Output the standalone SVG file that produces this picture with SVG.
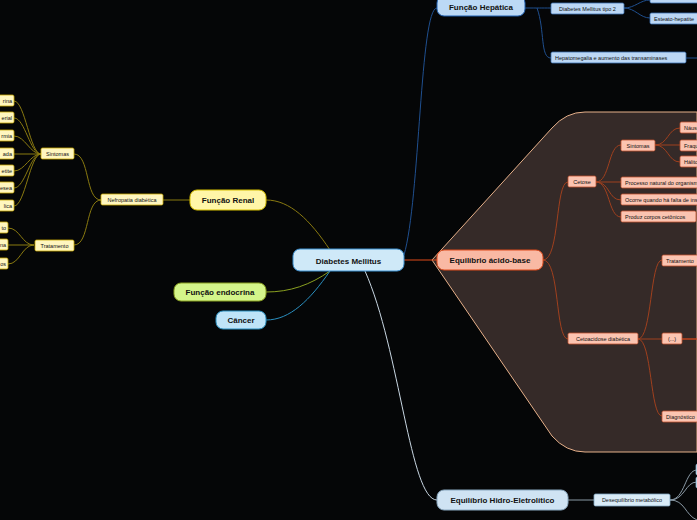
<svg xmlns="http://www.w3.org/2000/svg" width="697" height="520" viewBox="0 0 697 520">
<style>
text{font-family:"Liberation Sans",Arial,sans-serif;fill:#111}
.s{font-size:5.5px}
.m{font-size:8px;font-weight:bold}
.y{fill:#fff6bf;stroke:#c9a800;stroke-width:.8}
.b{fill:#bcd7f5;stroke:#3a6fb0;stroke-width:.8}
.r{fill:#fbc4b1;stroke:#c0502d;stroke-width:.8}
.w{fill:#d9ebf7;stroke:#7fa5c0;stroke-width:.8}
.cy{fill:none;stroke:#8a7a10;stroke-width:1}
.cb{fill:none;stroke:#1f4f8f;stroke-width:1}
.cr{fill:none;stroke:#a0401e;stroke-width:1}
.cw{fill:none;stroke:#8a99a5;stroke-width:1}
</style>
<rect width="697" height="520" fill="#050607"/>
<path d="M432,260 L552,128 Q566,112 585,112 L697,112 L697,452 L585,452 Q566,452 552,436 Z" fill="#352a28" stroke="#e6b08a" stroke-width="1"/>
<g id="connectors">
<path class="cy" d="M330,250 C310,220 290,200 266,200"/>
<path d="M330,271 C310,285 290,292 266,292" fill="none" stroke="#8aa020"/>
<path d="M330,271 C310,300 290,320 266,320" fill="none" stroke="#2a8fc0"/>
<path class="cb" d="M404,255 C420,200 420,8 437,8"/>
<path d="M404,260 L437,260" stroke="#e04a1a" stroke-width="1.2"/>
<path d="M365,271 C400,350 410,500 437,500" fill="none" stroke="#c8d6e2"/>
<path class="cy" d="M190,200 L163,200"/>
<path class="cy" d="M101,200 C85,200 90,154 74,154 M101,200 C85,200 90,245 74,245"/>
<path class="cy" d="M41,154 C30,154 25,101 14,101 M41,154 C30,154 25,118 14,118 M41,154 C30,154 25,136 14,136 M41,154 L14,154 M41,154 C30,154 25,171 14,171 M41,154 C30,154 25,188 14,188 M41,154 C30,154 25,206 14,206"/>
<path class="cy" d="M34,245 C22,245 20,228 8,228 M34,245 L8,245 M34,245 C22,245 20,264 8,264"/>
<path class="cb" d="M525,8 C540,8 540,8 551,8 M537,8 C545,30 540,58 551,58"/>
<path class="cb" d="M624,8 C635,8 640,0 650,0 M624,8 C635,8 640,18 650,18"/>
<path class="cb" d="M686,58 L697,58"/>
<path class="cr" d="M543,260 C560,260 555,182 568,182 M543,260 C560,260 555,339 568,339"/>
<path class="cr" d="M596,182 C610,182 608,145 621,145 M596,182 L621,182 M596,182 C610,182 608,200 621,200 M596,182 C610,182 608,217 621,217"/>
<path class="cr" d="M655,145 C668,145 668,128 680,128 M655,145 L680,145 M655,145 C668,145 668,162 680,162"/>
<path class="cr" d="M638,339 C652,339 650,260 662,260 M638,339 L662,339 M638,339 C652,339 650,416 662,416"/>
<path d="M682,339 L697,339" stroke="#e04a1a" stroke-width="1.2"/>
<path class="cw" d="M568,500 L594,500 M670,500 C685,500 685,470 697,470 M670,500 C685,500 685,482 697,482 M670,500 C685,500 685,515 697,520"/>
</g>
<g id="central"><rect x="293" y="249" width="111" height="22" rx="7" fill="#cfe9f8" stroke="#3b8fd0"/><text x="348.5" y="263.5" class="m" text-anchor="middle">Diabetes Mellitus</text></g>
<g id="renal"><rect x="190" y="190" width="76" height="20" rx="7" fill="#fff6a8" stroke="#d8c000"/><text x="228" y="203" class="m" text-anchor="middle">Função Renal</text></g>
<g id="endo"><rect x="174" y="283" width="92" height="18" rx="7" fill="#d4f58a" stroke="#8aa020"/><text x="220" y="295" class="m" text-anchor="middle">Função endocrina</text></g>
<g id="cancer"><rect x="216" y="311" width="50" height="18" rx="7" fill="#bfe4f8" stroke="#2a8fc0"/><text x="241" y="323" class="m" text-anchor="middle">Câncer</text></g>
<g id="hepatica"><rect x="437" y="-4" width="88" height="20" rx="7" fill="#bcd9f5" stroke="#1f5fb0"/><text x="481" y="10" class="m" text-anchor="middle">Função Hepática</text></g>
<g id="acido"><rect x="437" y="250" width="106" height="20" rx="7" fill="#f9b9a4" stroke="#e04a1a"/><text x="490" y="263" class="m" text-anchor="middle">Equilíbrio ácido-base</text></g>
<g id="hidro"><rect x="437" y="490" width="131" height="20" rx="7" fill="#cfe3f3" stroke="#8aa8c0"/><text x="502.5" y="503" class="m" text-anchor="middle">Equilíbrio Hidro-Eletrolítico</text></g>
<g id="nefro"><rect x="101" y="194" width="62" height="11" rx="1.5" class="y"/><text x="132" y="201.8" class="s" text-anchor="middle">Nefropatia diabética</text></g>
<g id="sintomas-r"><rect x="41" y="148" width="33" height="11" rx="1.5" class="y"/><text x="57.5" y="155.8" class="s" text-anchor="middle">Sintomas</text></g>
<g id="trat-r"><rect x="35" y="240" width="39" height="11" rx="1.5" class="y"/><text x="54.5" y="247.8" class="s" text-anchor="middle">Tratamento</text></g>
<g id="leaves-left" class="s">
<rect x="-5" y="95" width="19" height="11" rx="1.5" class="y"/><text x="12" y="102.8" text-anchor="end">rina</text>
<rect x="-5" y="112" width="19" height="11" rx="1.5" class="y"/><text x="12" y="119.8" text-anchor="end">erial</text>
<rect x="-5" y="130" width="19" height="11" rx="1.5" class="y"/><text x="12" y="137.8" text-anchor="end">rmia</text>
<rect x="-5" y="148" width="19" height="11" rx="1.5" class="y"/><text x="12" y="155.8" text-anchor="end">ada</text>
<rect x="-5" y="165" width="19" height="11" rx="1.5" class="y"/><text x="12" y="172.8" text-anchor="end">etite</text>
<rect x="-5" y="182" width="19" height="11" rx="1.5" class="y"/><text x="12" y="189.8" text-anchor="end">esea</text>
<rect x="-5" y="200" width="19" height="11" rx="1.5" class="y"/><text x="12" y="207.8" text-anchor="end">lica</text>
<rect x="-5" y="222" width="13" height="11" rx="1.5" class="y"/><text x="6" y="229.8" text-anchor="end">to</text>
<rect x="-5" y="239" width="13" height="11" rx="1.5" class="y"/><text x="6" y="246.8" text-anchor="end">na</text>
<rect x="-5" y="258" width="13" height="11" rx="1.5" class="y"/><text x="6" y="265.8" text-anchor="end">os</text>
</g>
<g id="dm2"><rect x="551" y="3" width="73" height="11" rx="1.5" class="b"/><text x="587.5" y="10.8" class="s" text-anchor="middle">Diabetes Mellitus tipo 2</text></g>
<g id="hep-leaves" class="s">
<rect x="650" y="-6" width="60" height="9" rx="1.5" class="b"/>
<rect x="650" y="13" width="60" height="11" rx="1.5" class="b"/><text x="654" y="20.8">Esteato-hepatite</text>
</g>
<g id="hepato"><rect x="551" y="52" width="135" height="11" rx="1.5" class="b"/><text x="555" y="59.8" class="s">Hepatomegalia e aumento das transaminases</text></g>
<g id="cetose"><rect x="568" y="176" width="28" height="11" rx="1.5" class="r"/><text x="582" y="183.8" class="s" text-anchor="middle">Cetose</text></g>
<g id="sint-c"><rect x="621" y="140" width="34" height="11" rx="1.5" class="r"/><text x="638" y="147.8" class="s" text-anchor="middle">Sintomas</text></g>
<g id="cetose-leaves" class="s">
<rect x="680" y="122" width="30" height="11" rx="1.5" class="r"/><text x="684" y="129.8">Náusea</text>
<rect x="680" y="140" width="30" height="11" rx="1.5" class="r"/><text x="684" y="147.8">Fraqueza</text>
<rect x="680" y="156" width="30" height="11" rx="1.5" class="r"/><text x="684" y="163.8">Hálito</text>
<rect x="621" y="177" width="90" height="11" rx="1.5" class="r"/><text x="625" y="184.8">Processo natural do organismo</text>
<rect x="621" y="194" width="90" height="11" rx="1.5" class="r"/><text x="625" y="201.8">Ocorre quando há falta de insulina</text>
<rect x="621" y="211" width="75" height="11" rx="1.5" class="r"/><text x="625" y="218.8">Produz corpos cetônicos</text>
</g>
<g id="cad"><rect x="568" y="333" width="70" height="11" rx="1.5" class="r"/><text x="603" y="340.8" class="s" text-anchor="middle">Cetoacidose diabética</text></g>
<g id="cad-leaves" class="s">
<rect x="662" y="255" width="50" height="11" rx="1.5" class="r"/><text x="666" y="262.8">Tratamento</text>
<rect x="662" y="333" width="20" height="11" rx="1.5" class="r"/><text x="672" y="340.8" text-anchor="middle">(...)</text>
<rect x="662" y="411" width="50" height="11" rx="1.5" class="r"/><text x="666" y="418.8">Diagnóstico</text>
</g>
<g id="deseq"><rect x="594" y="494" width="76" height="12" rx="1.5" class="w"/><text x="632" y="502.2" class="s" text-anchor="middle">Desequilíbrio metabólico</text></g>
<g id="hidro-leaves"><rect x="696" y="464" width="10" height="11" rx="1.5" class="w"/><rect x="696" y="477" width="10" height="11" rx="1.5" class="w"/></g>
</svg>
